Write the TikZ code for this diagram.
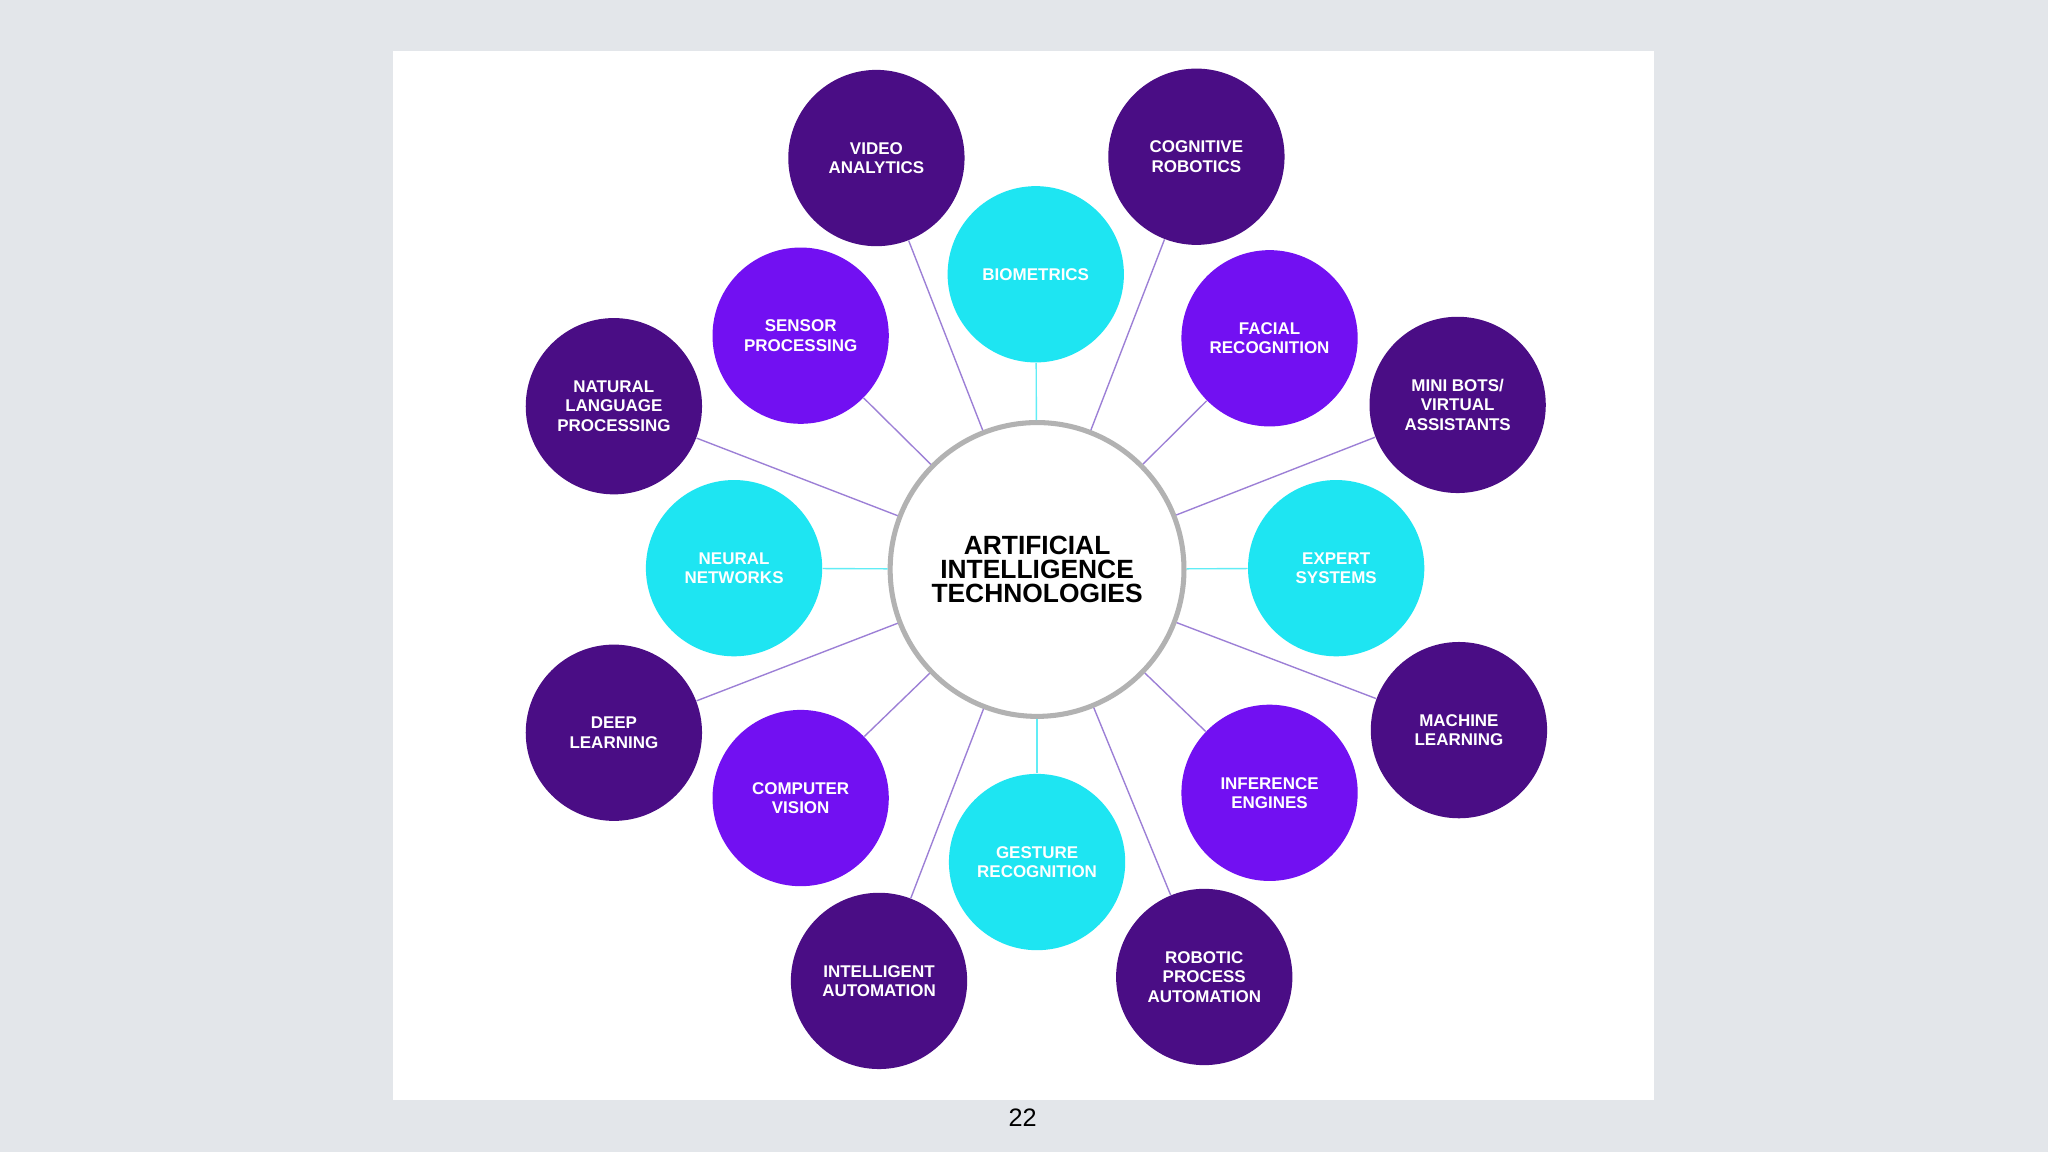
\documentclass[tikz,border=0pt]{standalone}
\usepackage{fontspec}
\setmainfont{Liberation Sans}
\begin{document}
\begin{tikzpicture}[x=0.02cm,y=-0.02cm,
  bub/.style={circle,minimum size=2.7cm,inner sep=0pt,align=center,text=white,font=\fontsize{7.4}{8.4}\selectfont\bfseries},
  dk/.style={bub,fill=dkp},
  br/.style={bub,fill=brp},
  cy/.style={bub,fill=cyn},
  ln/.style={draw=lnc,line width=0.6pt},
  lc/.style={draw=cyn!70,line width=0.6pt}]
\definecolor{dkp}{HTML}{4A0D85}
\definecolor{brp}{HTML}{7210F2}
\definecolor{cyn}{HTML}{1EE5F2}
\definecolor{lnc}{HTML}{9C7FD6}
\definecolor{bg}{HTML}{E3E6EA}
\fill[bg] (0,0) rectangle (1568,882);
\useasboundingbox (0,0) rectangle (1568,882);
\fill[white] (301,39) rectangle (1266,842);
\node (pg) at (783,856) {\fontsize{11}{12}\selectfont 22};
\node[circle,draw=black!30,line width=2.2pt,fill=white,minimum size=4.5cm,align=center,
  font=\fontsize{11.5}{10.5}\selectfont\bfseries] (c) at (794,436) {ARTIFICIAL\\INTELLIGENCE\\TECHNOLOGIES};
\node[dk] (va) at (671,121) {VIDEO\\ANALYTICS};
\node[dk] (cr) at (916,120) {COGNITIVE\\ROBOTICS};
\node[cy] (bi) at (793,210) {BIOMETRICS};
\node[br] (sp) at (613,257) {SENSOR\\PROCESSING};
\node[br] (fr) at (972,259) {FACIAL\\RECOGNITION};
\node[dk] (nl) at (470,311) {NATURAL\\LANGUAGE\\PROCESSING};
\node[dk] (mb) at (1116,310) {MINI BOTS/\\VIRTUAL\\ASSISTANTS};
\node[cy] (nn) at (562,435) {NEURAL\\NETWORKS};
\node[cy] (es) at (1023,435) {EXPERT\\SYSTEMS};
\node[dk] (dl) at (470,561) {DEEP\\LEARNING};
\node[dk] (ml) at (1117,559) {MACHINE\\LEARNING};
\node[br] (cv) at (613,611) {COMPUTER\\VISION};
\node[br] (ie) at (972,607) {INFERENCE\\ENGINES};
\node[cy] (gr) at (794,660) {GESTURE\\RECOGNITION};
\node[dk] (ia) at (673,751) {INTELLIGENT\\AUTOMATION};
\node[dk] (rp) at (922,748) {ROBOTIC\\PROCESS\\AUTOMATION};
\begin{scope}[on background layer/.style={}]
\foreach \n in {va,cr,sp,fr,nl,mb,dl,ml,cv,ie,ia,rp} \draw[ln] (c) -- (\n);
\foreach \n in {bi,nn,es,gr} \draw[lc] (c) -- (\n);
\end{scope}
\end{tikzpicture}
\end{document}
